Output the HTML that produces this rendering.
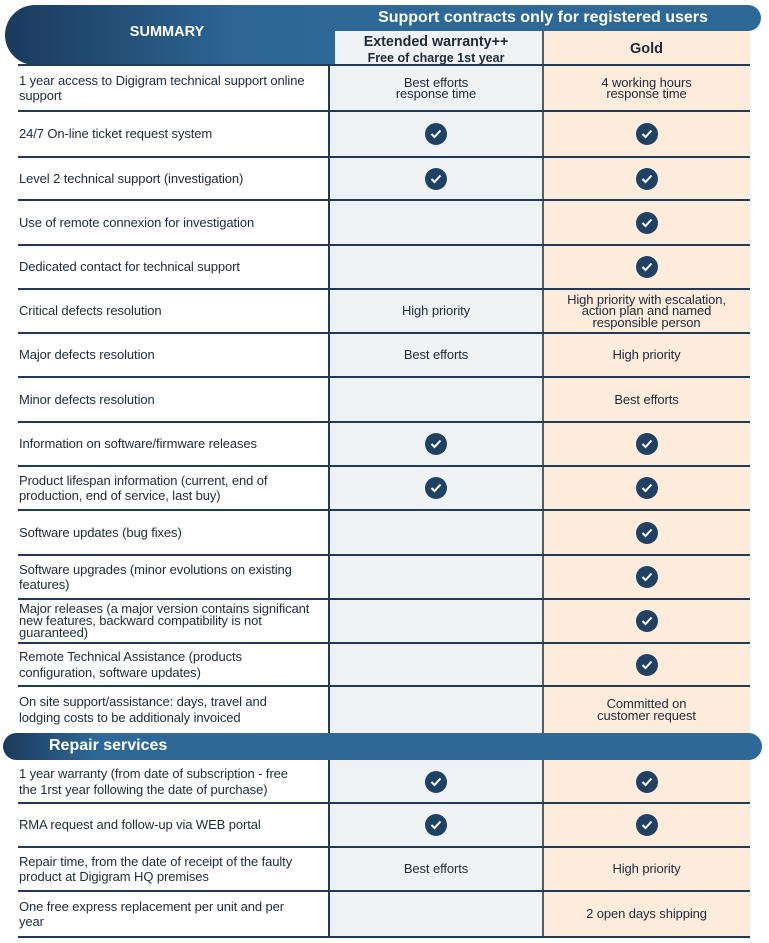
<!DOCTYPE html>
<html><head><meta charset="utf-8"><style>
*{margin:0;padding:0;box-sizing:border-box}
body{width:769px;height:943px;background:#fff;position:relative;overflow:hidden;font-family:"Liberation Sans",sans-serif;color:#1d2a38;font-size:13px}
.a{position:absolute}
.lbl{position:absolute;left:19px;width:310px;line-height:15.5px;letter-spacing:-0.1px;display:flex;align-items:center}
.c{position:absolute;display:flex;align-items:center;justify-content:center;text-align:center;line-height:11.5px;letter-spacing:-0.1px}
.c2{left:329px;width:214px}
.c3{left:543px;width:207px}
.hl{position:absolute;left:18px;width:732px;height:1.5px;background:#1e3a58}
.ck{width:22px;height:22px;border-radius:50%;background:#1f4163;display:flex;align-items:center;justify-content:center}
</style></head><body>
<div class="a" style="left:329px;top:31px;width:214px;height:906px;background:#eff2f4"></div>
<div class="a" style="left:543px;top:31px;width:207px;height:906px;background:#fdecdc"></div>
<div class="a" style="left:328px;top:31px;width:1.5px;height:906px;background:#1e3a58"></div>
<div class="a" style="left:542px;top:31px;width:1.5px;height:906px;background:#555e66"></div>
<div class="a" style="left:5px;top:5px;width:330px;height:60px;border-radius:30px 0 0 30px;background:linear-gradient(90deg,#1b3a5c,#2d6695 70%,#2e6896)"></div>
<div class="a" style="left:329px;top:5px;width:432px;height:26px;border-radius:0 13px 13px 0;background:#2e6896"></div>
<div class="a" style="left:5px;top:24px;width:324px;text-align:center;color:#fff;font-weight:bold;font-size:14.5px">SUMMARY</div>
<div class="a" style="left:329px;top:9px;width:428px;text-align:center;color:#fff;font-weight:bold;font-size:16px">Support contracts only for registered users</div>
<div class="a" style="left:329px;top:34px;width:214px;text-align:center;font-weight:bold;font-size:14.3px;line-height:16px;color:#1d2a38">Extended warranty++<br><span style="font-size:12.5px">Free of charge 1st year</span></div>
<div class="a" style="left:543px;top:41px;width:207px;text-align:center;font-weight:bold;font-size:14.5px">Gold</div>
<div class="a" style="left:3px;top:733px;width:759px;height:27px;border-radius:14px;background:linear-gradient(90deg,#1b3a5c,#2e6896 12%,#2e6896)"></div>
<div class="a" style="left:49px;top:737px;color:#fff;font-weight:bold;font-size:16px">Repair services</div>
<div id="rows"></div>
<script>
const C='<div class="ck"><svg width="12" height="10" viewBox="0 0 12 10"><path d="M1.5 5l3 3 6-6.5" stroke="#fff" stroke-width="2" fill="none"/></svg></div>';
const rows=[
[65,111,"1 year access to Digigram technical support online<br>support","Best efforts<br>response time","4 working hours<br>response time"],
[111,157,"24/7 On-line ticket request system",C,C],
[157,200,"Level 2 technical support (investigation)",C,C],
[200,245,"Use of remote connexion for investigation","",C],
[245,289,"Dedicated contact for technical support","",C],
[289,333,"Critical defects resolution","High priority","High priority with escalation,<br>action plan and named<br>responsible person"],
[333,377,"Major defects resolution","Best efforts","High priority"],
[377,422,"Minor defects resolution","","Best efforts"],
[422,466,"Information on software/firmware releases",C,C],
[466,510,"Product lifespan information (current, end of<br>production, end of service, last buy)",C,C],
[510,555,"Software updates (bug fixes)","",C],
[555,599,"Software upgrades (minor evolutions on existing<br>features)","",C],
[599,643,"Major releases (a major version contains significant<br>new features, backward compatibility is not<br>guaranteed)","",C],
[643,686,"Remote Technical Assistance (products<br>configuration, software updates)","",C],
[686,733,"On site support/assistance: days, travel and<br>lodging costs to be additionaly invoiced","","Committed on<br>customer request"],
[760,803,"1 year warranty (from date of subscription - free<br>the 1rst year following the date of purchase)",C,C],
[803,847,"RMA request and follow-up via WEB portal",C,C],
[847,891,"Repair time, from the date of receipt of the faulty<br>product at Digigram HQ premises","Best efforts","High priority"],
[891,937,"One free express replacement per unit and per<br>year","","2 open days shipping"]];
let h='';
rows.forEach(r=>{const t=r[0],hh=r[1]-r[0];
const lh=r[2].split('<br>').length==3?'line-height:12px;':'';
h+=`<div class="lbl" style="top:${t}px;height:${hh}px;${lh}">${r[2]}</div>`;
h+=`<div class="c c2" style="top:${t}px;height:${hh}px">${r[3]}</div>`;
h+=`<div class="c c3" style="top:${t}px;height:${hh}px">${r[4]}</div>`;
if(r[1]!=733)h+=`<div class="hl" style="top:${r[1]-1}px"></div>`;});
h+=`<div class="hl" style="top:64px"></div>`;
document.getElementById('rows').innerHTML=h;
</script>
</body></html>
